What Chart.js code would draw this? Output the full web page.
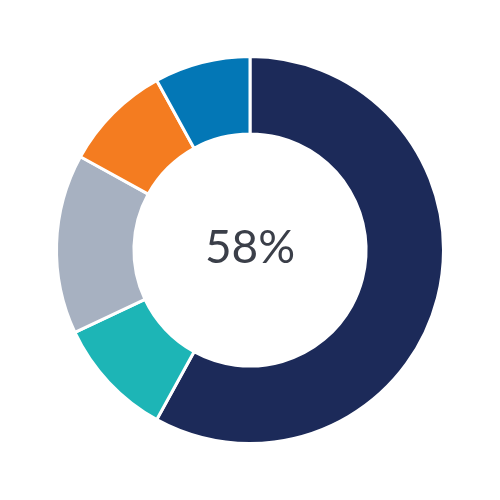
<!DOCTYPE html>
<html>
<head>
<meta charset="utf-8">
<script src="https://cdn.jsdelivr.net/npm/chart.js@4/dist/chart.umd.min.js"></script>
<style>
  html, body { margin: 0; padding: 0; background: #ffffff; }
  #wrap { position: relative; width: 500px; height: 500px; }
  #center { position: absolute; left: 0; top: 0; width: 500px; height: 500px;
    display: flex; align-items: center; justify-content: center;
    font-family: "Lato", sans-serif; font-size: 46px; color: #3b3f49; pointer-events: none; }
  #label { position: relative; top: -5px; }
</style>
</head>
<body>
<div id="wrap">
  <canvas id="c" width="500" height="500"></canvas>
  <div id="center"><span id="label"></span></div>
</div>
<script>
const categories = ["A", "B", "C", "D", "E"];
const values = [58, 10, 15, 9, 8];
const colors = ["#1c2a59", "#1db5b6", "#a7b1c1", "#f47c20", "#0377b6"];
const centerLabel = "58%";

document.getElementById("label").textContent = centerLabel;

new Chart(document.getElementById("c"), {
  type: "doughnut",
  data: {
    labels: categories,
    datasets: [{
      data: values,
      backgroundColor: colors,
      borderColor: "#ffffff",
      borderWidth: 3,
      hoverOffset: 0
    }]
  },
  options: {
    responsive: false,
    animation: false,
    cutout: "60%",
    layout: { padding: 55 },
    plugins: { legend: { display: false }, tooltip: { enabled: false } }
  }
});
</script>
</body>
</html>
